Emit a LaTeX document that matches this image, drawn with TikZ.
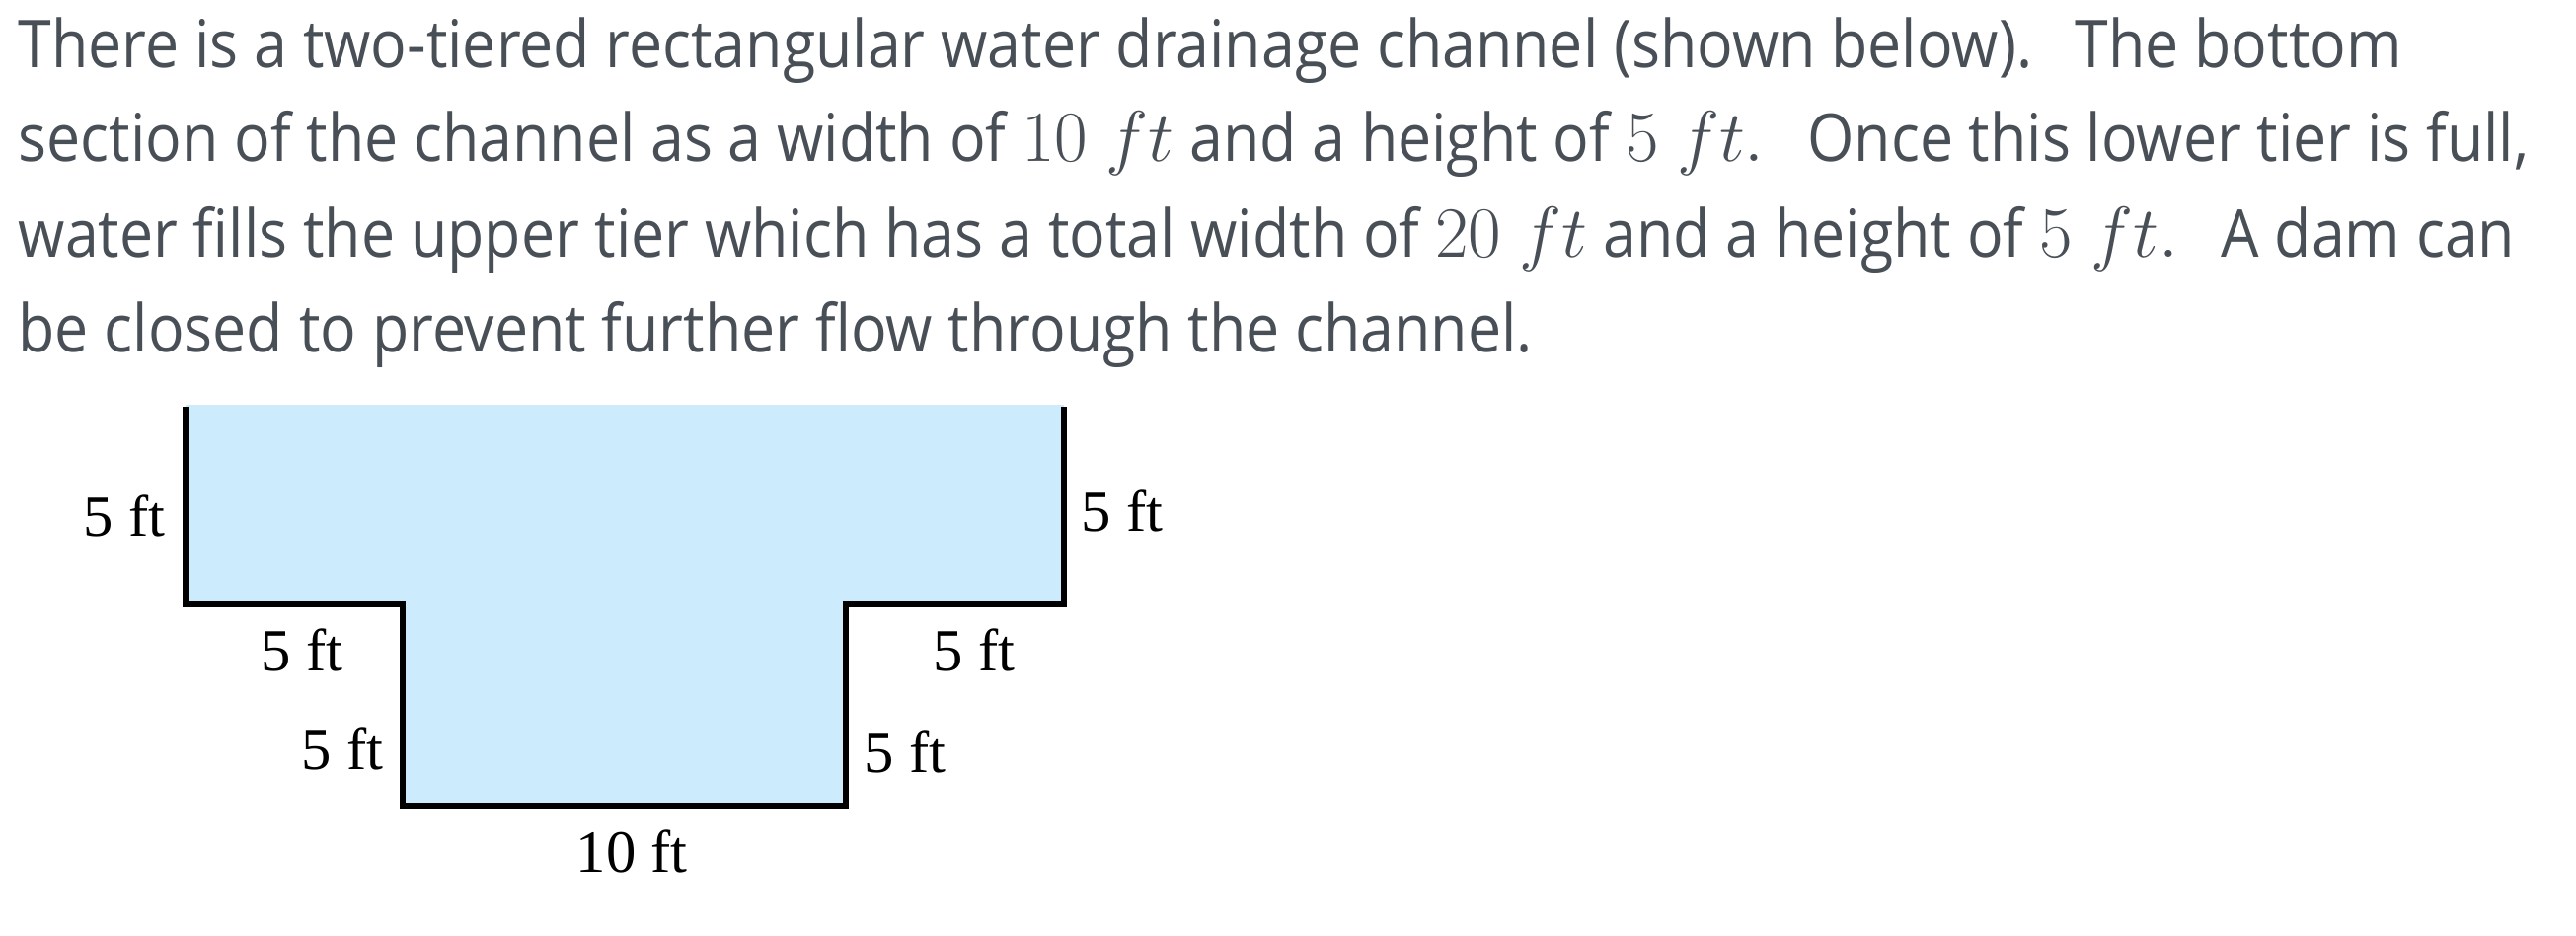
\documentclass[tikz,border=0pt]{standalone}
\usepackage[no-math]{fontspec}
\setmainfont{Open Sans}[FakeStretch=0.91]
\newfontfamily\lblfont{Liberation Serif}
\definecolor{txt}{RGB}{73,79,86}
\definecolor{water}{RGB}{204,235,253}
\newcommand\mq[1]{{\fontsize{22.6}{26}\selectfont$#1$}}
\newcommand\dsp{\ \ \hspace{3.4pt}}
\begin{document}
\begin{tikzpicture}[x=0.01cm,y=-0.01cm,
  para/.style={anchor=base west, inner sep=0pt, text=txt, font=\fontsize{19}{23}\selectfont},
  lbl/.style={anchor=base west, inner sep=0pt, text=black, font=\lblfont\fontsize{17.25}{20}\selectfont},
  wall/.style={draw=black, line width=1.9pt, line join=miter}]
\useasboundingbox (0,0) rectangle (2610,947);
\node[para] (l1) at (18,68) {There is a two-tiered rectangular water drainage channel (shown below).\dsp The bottom};
\node[para] (l2) at (18,163) {section of the channel as a width of \mq{10\ ft} and a height of \mq{5\ ft.}\dsp Once this lower tier is full,};
\node[para] (l3) at (18,260) {water fills the upper tier which has a total width of \mq{20\ ft} and a height of \mq{5\ ft.}\dsp A dam can};
\node[para] (l4) at (18,356) {be closed to prevent further flow through the channel.};
\fill[water] (188,410) -- (188,612) -- (408,612) -- (408,816) -- (857,816) -- (857,612) -- (1078,612) -- (1078,410) -- cycle;
\draw[wall] (188,412) -- (188,612) -- (408,612) -- (408,816) -- (857,816) -- (857,612) -- (1078,612) -- (1078,412);
\node[lbl] (a) at (84,543) {5 ft};
\node[lbl] (b) at (1095,538) {5 ft};
\node[lbl] (c) at (264,679) {5 ft};
\node[lbl] (d) at (945,679) {5 ft};
\node[lbl] (e) at (305,779) {5 ft};
\node[lbl] (f) at (875,782) {5 ft};
\node[lbl] (g) at (583,883) {10 ft};
\end{tikzpicture}
\end{document}
